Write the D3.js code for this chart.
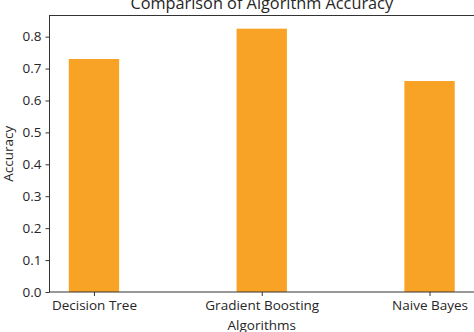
<!DOCTYPE html>
<html><head><meta charset="utf-8">
<script src="https://cdn.jsdelivr.net/npm/d3@7"></script>
<style>body{margin:0;background:#fff}svg{display:block}text{font-family:"Open Sans",sans-serif;fill:#262626}</style>
</head><body><svg id="c" width="474" height="332"></svg>
<script>
const categories = ["Decision Tree", "Gradient Boosting", "Naive Bayes"];
const accuracy = [0.73, 0.825, 0.661];
const yTicks = [0.0, 0.1, 0.2, 0.3, 0.4, 0.5, 0.6, 0.7, 0.8];
const title = "Comparison of Algorithm Accuracy";
const xLabel = "Algorithms";
const yLabel = "Accuracy";

const svg = d3.select("#c");
const L = 49.5, R = 474, T = 15.5, B = 292;
const barW = 0.3;
const xmin = -barW/2 - 0.05*(2+barW), xmax = 2 + barW/2 + 0.05*(2+barW);
const x = d3.scaleLinear().domain([xmin, xmax]).range([L, R]);
const ymax = d3.max(accuracy) * 1.05;
const y = d3.scaleLinear().domain([0, ymax]).range([B, T]);

svg.selectAll("rect.bar").data(accuracy).join("rect")
  .attr("class","bar")
  .attr("x", (d,i) => x(i - barW/2))
  .attr("width", (d,i) => x(i + barW/2) - x(i - barW/2))
  .attr("y", d => y(d))
  .attr("height", d => y(0) - y(d))
  .attr("fill", "#f9a326");

const yAxis = d3.axisLeft(y).tickValues(yTicks).tickFormat(d3.format(".1f")).tickSize(4).tickPadding(4);
const gy = svg.append("g").attr("transform", `translate(${L},0)`).call(yAxis);
gy.select(".domain").remove();
gy.selectAll("line").attr("stroke", "#333");
gy.selectAll("text").style("font-size", "13.5px").style("fill", "#262626");

const xAxis = d3.axisBottom(x).tickValues(categories.map((c,i)=>i)).tickFormat(i => categories[i]).tickSize(4).tickPadding(4);
const gx = svg.append("g").attr("transform", `translate(0,${B})`).call(xAxis);
gx.select(".domain").remove();
gx.selectAll("line").attr("stroke", "#333");
gx.selectAll("text").style("font-size", "13.5px").style("fill", "#262626");

// spines
svg.append("rect").attr("x", L).attr("y", T).attr("width", R - L + 1).attr("height", B - T)
  .attr("fill", "none").attr("stroke", "#333").attr("stroke-width", 1);

svg.append("text").attr("x", (L+R)/2).attr("y", 9).attr("text-anchor","middle")
  .style("font-size","16.3px").text(title);
svg.append("text").attr("x", (L+R)/2).attr("y", 330).attr("text-anchor","middle")
  .style("font-size","13.5px").text(xLabel);
svg.append("text").attr("transform", `translate(13,${(T+B)/2}) rotate(-90)`).attr("text-anchor","middle")
  .style("font-size","13.5px").text(yLabel);
</script></body></html>
